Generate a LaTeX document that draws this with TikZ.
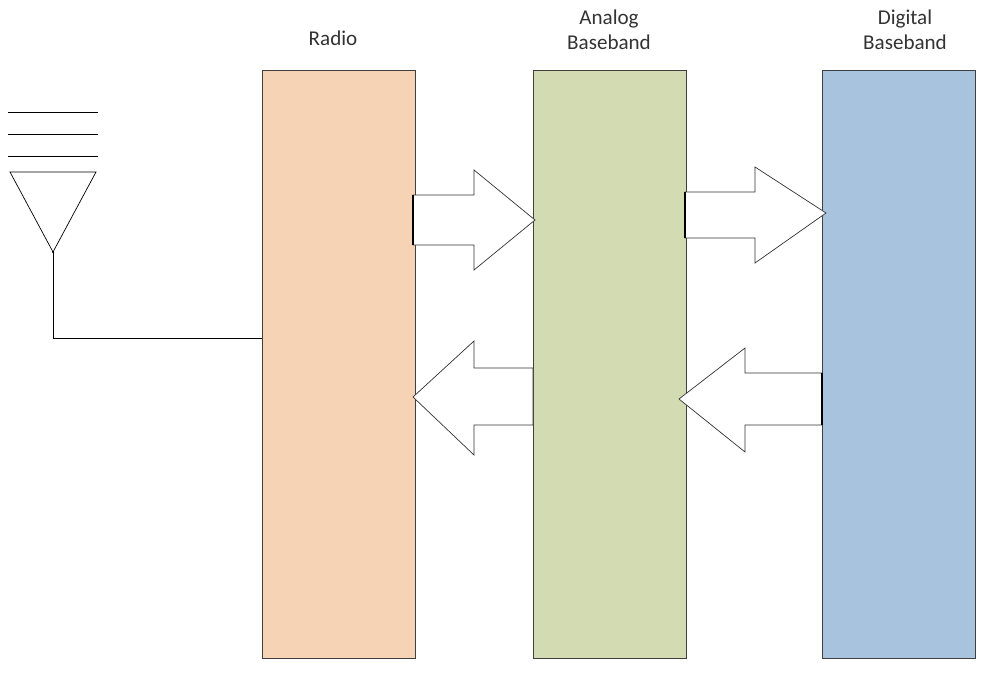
\documentclass[tikz,border=0pt]{standalone}
\usepackage{fontspec}
\setmainfont{Carlito}
\usetikzlibrary{positioning}
\definecolor{radiofill}{HTML}{F7D3B6}
\definecolor{analogfill}{HTML}{D3DBB3}
\definecolor{digitalfill}{HTML}{A8C3DD}
\tikzset{
  block/.style={draw=black!75, minimum width=3.06cm, minimum height=11.76cm, inner sep=0pt},
  title/.style={font=\fontsize{12}{14.5}\selectfont, align=center, text=black!80},
  bigarrow/.style={draw=black!80, fill=white},
}
\begin{document}
\begin{tikzpicture}[x=0.02cm,y=-0.02cm]
    \useasboundingbox (0,0) rectangle (1008,686);

    % Blocks
    \node[block, fill=radiofill, anchor=north west] (radio) at (262,70) {};
    \node[block, fill=analogfill, anchor=north west] (analog) at (533,70) {};
    \node[block, fill=digitalfill, anchor=north west] (digital) at (822,70) {};

    % Titles
    \node[title] (radiolbl) at (333,38) {Radio};
    \node[title] (analoglbl) at (609,30) {Analog\\Baseband};
    \node[title] (digitallbl) at (905,30) {Digital\\Baseband};

    % Antenna
    \foreach \y in {112,134,156}
        \draw (8,\y) -- (98,\y);
    \draw (10,172) -- (96,172) -- (53,252) -- cycle;
    \fill (53,252) circle (1.2);
    \coordinate (feed) at (53,338);
    \draw (53,252) -- (feed) -- (feed -| radio.west);

    % Fat arrows to the right
    \draw[bigarrow] (413,195) -- (474,195) -- (474,170) -- (535,220) -- (474,270) -- (474,245) -- (413,245) -- cycle;
    \draw[line width=1.5pt] (413,195) -- (413,245);
    \draw[bigarrow] (685,192) -- (755,192) -- (755,167) -- (826,213) -- (755,263) -- (755,238) -- (685,238) -- cycle;
    \draw[line width=1.5pt] (685,192) -- (685,238);

    % Fat arrows to the left
    \draw[bigarrow] (533,368) -- (474,368) -- (474,341) -- (413,397) -- (474,455) -- (474,425) -- (533,425) -- cycle;
    \draw[bigarrow] (822,373) -- (745,373) -- (745,348) -- (679,399) -- (745,452) -- (745,425) -- (822,425) -- cycle;
    \draw[line width=1.5pt] (822,373) -- (822,425);
\end{tikzpicture}
\end{document}
